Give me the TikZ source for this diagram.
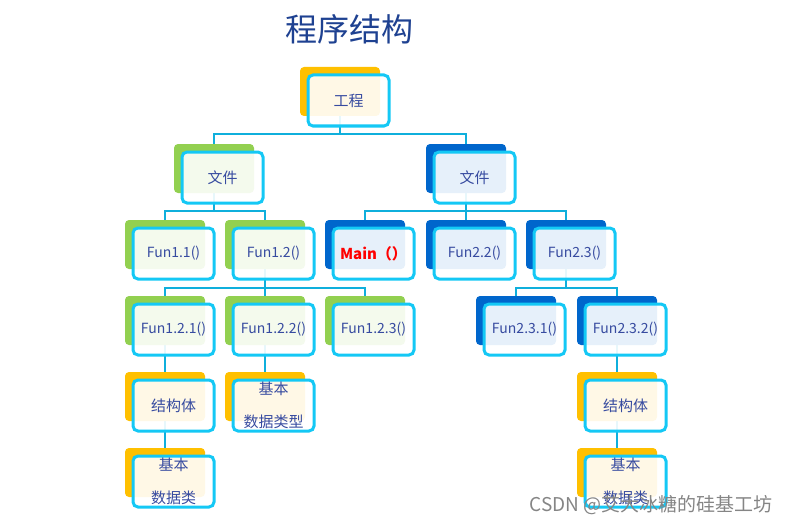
\documentclass[tikz,border=0pt]{standalone}
\usepackage{fontspec}
\setmainfont{Noto Sans CJK SC}
\definecolor{cyel}{HTML}{FFC000}
\definecolor{cgrn}{HTML}{92D050}
\definecolor{cblu}{HTML}{0066CC}
\definecolor{cbord}{RGB}{20,200,245}
\definecolor{cconn}{RGB}{15,175,220}
\definecolor{ctxt}{RGB}{55,75,160}
\definecolor{ctitle}{RGB}{30,65,145}
\pgfdeclarelayer{bg}
\pgfsetlayers{bg,main}
\tikzset{
  backbox/.style={minimum width=80pt,minimum height=49pt,inner sep=0pt,outer sep=0pt,rounded corners=4pt,anchor=north west},
  frontbox/.style={minimum width=81pt,minimum height=51pt,inner sep=0pt,outer sep=0pt,rounded corners=5pt,anchor=north west,draw=cbord,line width=3pt,fill=white,fill opacity=0.9},
  txt/.style={text=ctxt,font=\fontsize{15}{33}\selectfont,inner sep=0pt,align=center},
  funtxt/.style={text=ctxt,font=\fontsize{14}{17}\selectfont,inner sep=0pt},
  maintxt/.style={text=red,font=\bfseries\fontsize{15}{18}\selectfont,inner sep=0pt},
  conn/.style={draw=cconn,line width=2.5pt}
}
% name, x, y(top), colour, text style, text
\newcommand\treebox[6]{%
  \node[backbox,fill=#4] (#1-b) at (#2,-#3) {};
  \node[frontbox] (#1) at (#2+8,-#3-8) {};
  \node[#5] (#1-t) at (#1.center) {#6};
}
\begin{document}
\begin{tikzpicture}[x=1pt,y=1pt]
\useasboundingbox (0,0) rectangle (789,-524);
\node[text=ctitle,font=\fontsize{32}{36}\selectfont,inner sep=0pt] (title) at (349,-29) {程序结构};
% level 1
\treebox{gc}{300}{67}{cyel}{txt}{工程}
% level 2
\treebox{wjL}{174}{144}{cgrn}{txt}{文件}
\treebox{wjR}{426}{144}{cblu}{txt}{文件}
% level 3
\treebox{f11}{125}{220}{cgrn}{funtxt}{Fun1.1()}
\treebox{f12}{225}{220}{cgrn}{funtxt}{Fun1.2()}
\treebox{main}{325}{220}{cblu}{maintxt}{Main（）}
\treebox{f22}{426}{220}{cblu}{funtxt}{Fun2.2()}
\treebox{f23}{526}{220}{cblu}{funtxt}{Fun2.3()}
% level 4
\treebox{f121}{125}{296}{cgrn}{funtxt}{Fun1.2.1()}
\treebox{f122}{225}{296}{cgrn}{funtxt}{Fun1.2.2()}
\treebox{f123}{325}{296}{cgrn}{funtxt}{Fun1.2.3()}
\treebox{f231}{476}{296}{cblu}{funtxt}{Fun2.3.1()}
\treebox{f232}{577}{296}{cblu}{funtxt}{Fun2.3.2()}
% level 5
\treebox{jg1}{125}{372}{cyel}{txt}{结构体}
\treebox{jb1}{225}{372}{cyel}{txt}{基本\\数据类型}
\treebox{jg2}{577}{372}{cyel}{txt}{结构体}
% level 6
\treebox{jb2}{125}{448}{cyel}{txt}{基本\\数据类}
\treebox{jb3}{577}{448}{cyel}{txt}{基本\\数据类}
% watermark
\node[text=black!48,font=\fontsize{19}{22}\selectfont,inner sep=0pt,anchor=east] (wm) at (773,-505) {CSDN @艾大冰糖的硅基工坊};
% connectors
\coordinate (bus1) at (0,-134);
\coordinate (bus2) at (0,-211);
\coordinate (bus3) at (0,-288);
\begin{pgfonlayer}{bg}
\foreach \c in {wjL,wjR}
  \draw[conn] (gc-b.south) -- (gc-b.south |- bus1) -| (\c-b.north);
\foreach \c in {f11,f12}
  \draw[conn] (wjL-b.south) -- (wjL-b.south |- bus2) -| (\c-b.north);
\foreach \c in {main,f22,f23}
  \draw[conn] (wjR-b.south) -- (wjR-b.south |- bus2) -| (\c-b.north);
\foreach \c in {f121,f122,f123}
  \draw[conn] (f12-b.south) -- (f12-b.south |- bus3) -| (\c-b.north);
\foreach \c in {f231,f232}
  \draw[conn] (f23-b.south) -- (f23-b.south |- bus3) -| (\c-b.north);
\draw[conn] (f121-b.south) -- (jg1-b.north);
\draw[conn] (jg1-b.south) -- (jb2-b.north);
\draw[conn] (f122-b.south) -- (jb1-b.north);
\draw[conn] (f232-b.south) -- (jg2-b.north);
\draw[conn] (jg2-b.south) -- (jb3-b.north);
\end{pgfonlayer}
\end{tikzpicture}
\end{document}
